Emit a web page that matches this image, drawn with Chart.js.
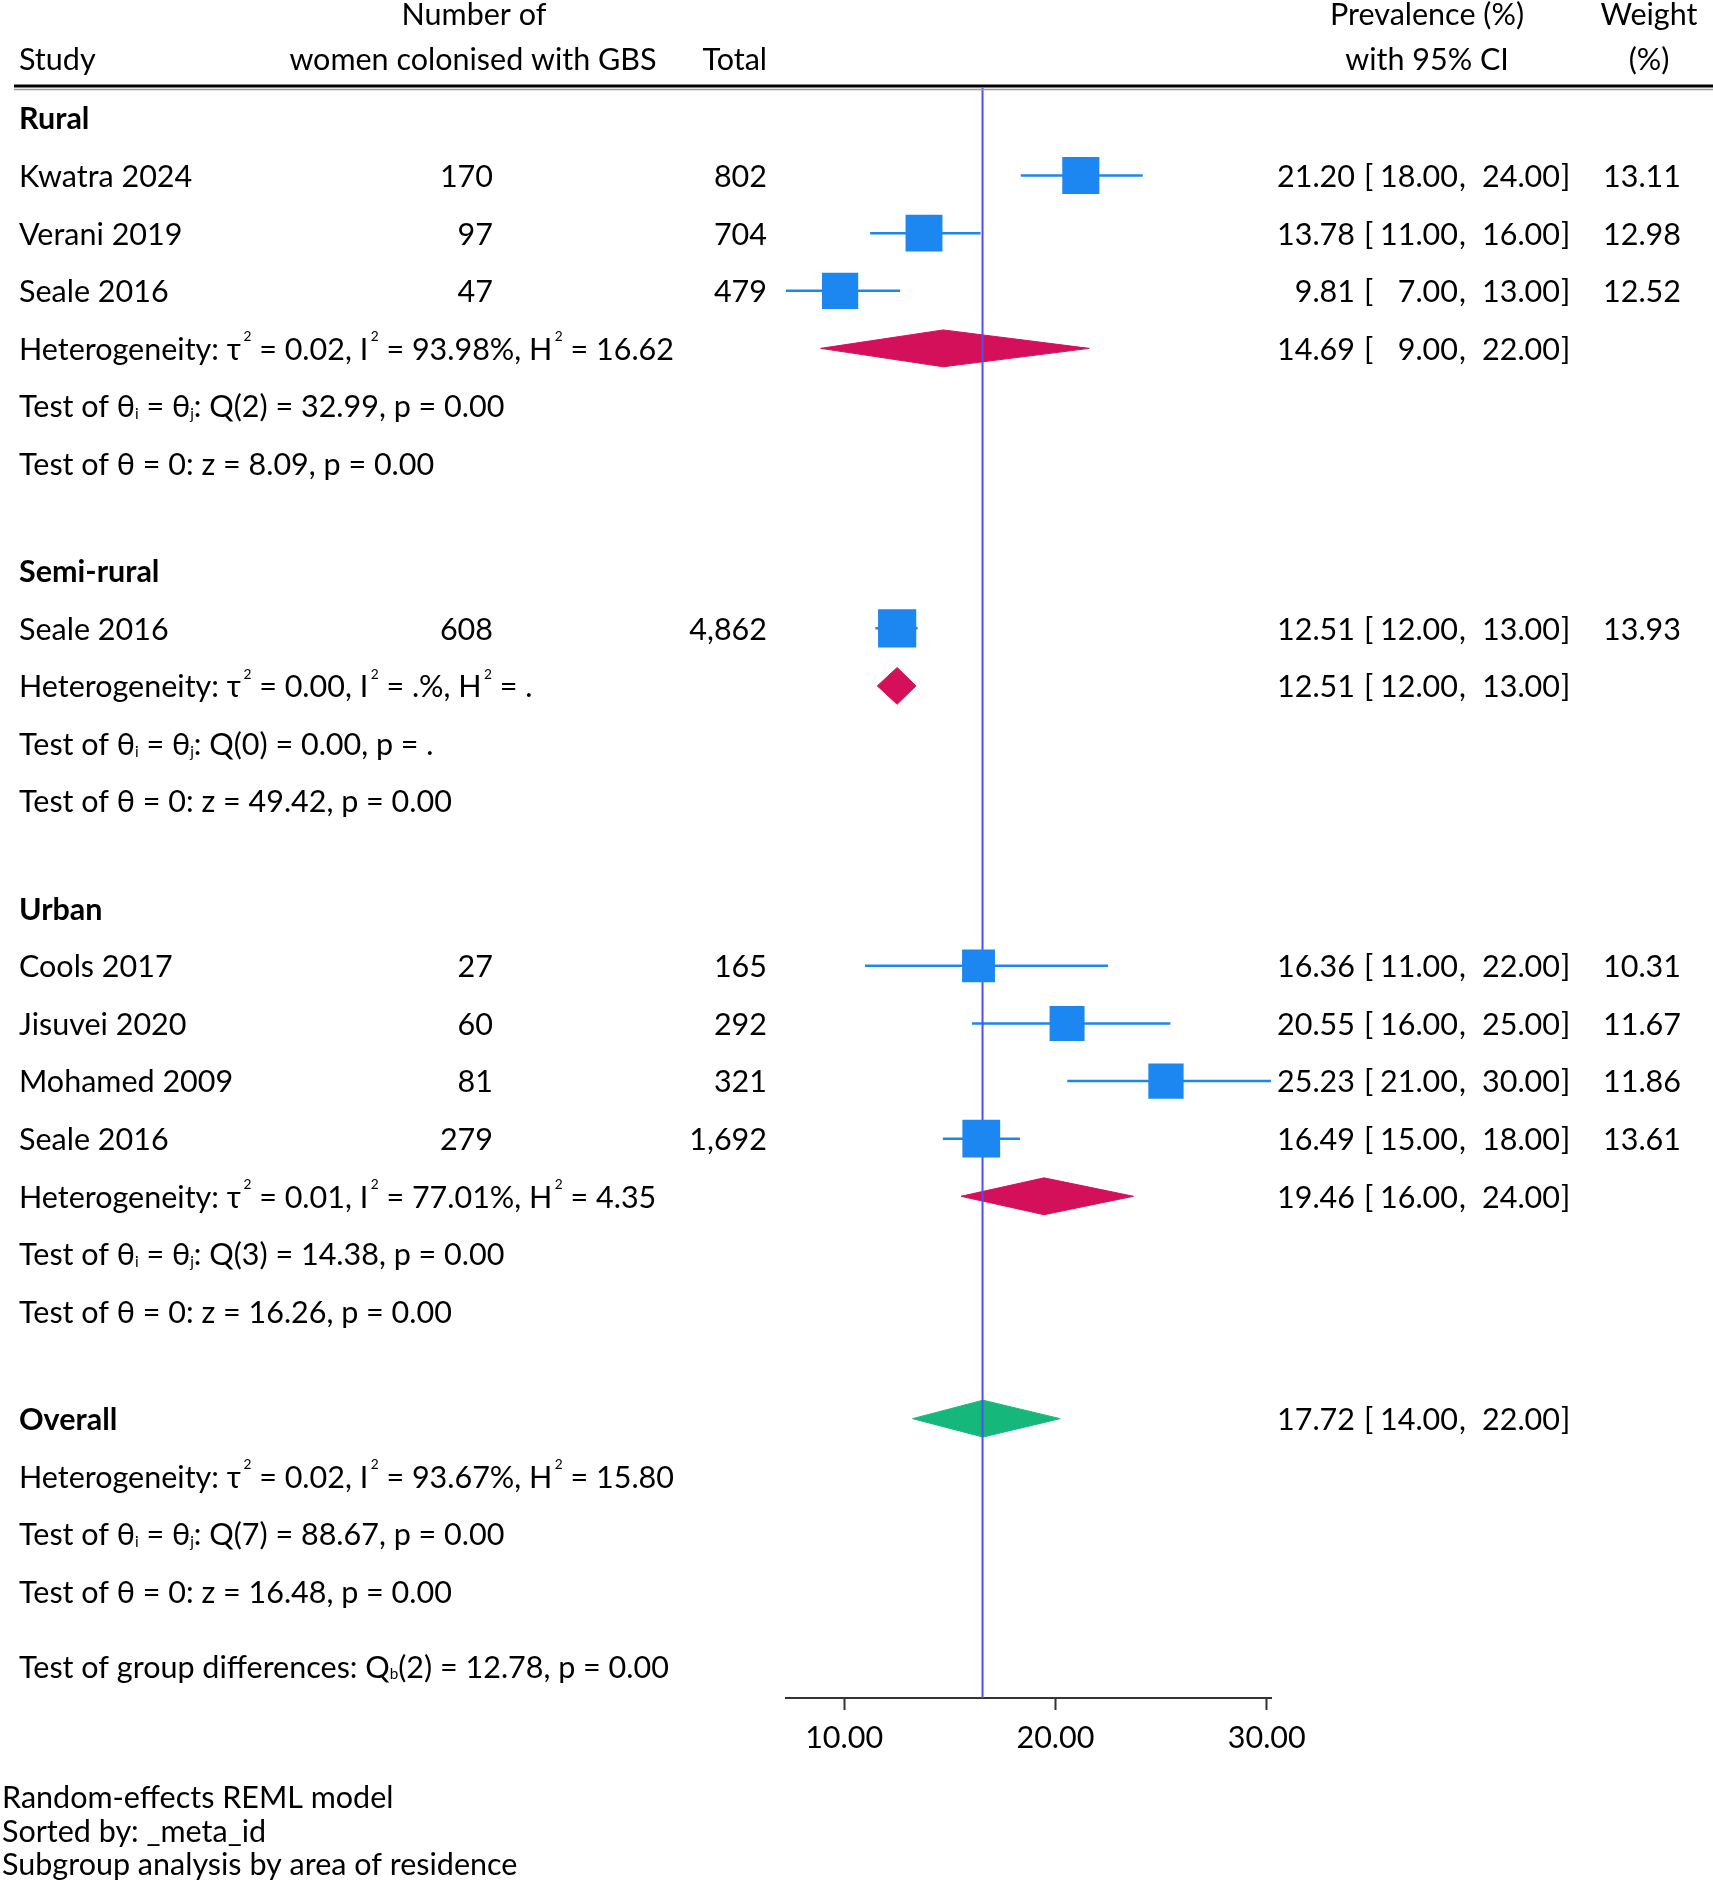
<!DOCTYPE html>
<html>
<head>
<meta charset="utf-8">
<script src="https://cdn.jsdelivr.net/npm/chart.js@4.4.1/dist/chart.umd.min.js"></script>
<style>
  body { margin: 0; background: #fff; }
  #wrap { width: 1713px; height: 1881px; }
</style>
</head>
<body>
<div id="wrap"><canvas id="forest" width="1713" height="1881"></canvas></div>
<script>
// ---- data ----
const groups = ["Rural", "Semi-rural", "Urban"];
const studies = ["Kwatra 2024", "Verani 2019", "Seale 2016", "Seale 2016", "Cools 2017", "Jisuvei 2020", "Mohamed 2009", "Seale 2016"];
const studyGroup = [0, 0, 0, 1, 2, 2, 2, 2];
const colonised = ["170", "97", "47", "608", "27", "60", "81", "279"];
const totals = ["802", "704", "479", "4,862", "165", "292", "321", "1,692"];

// marker positions on the axis
const estimate = [21.20, 13.78, 9.81, 12.51, 16.36, 20.55, 25.23, 16.49];
const ciLow = [18.36, 11.23, 7.25, 11.48, 10.99, 16.05, 20.56, 14.67];
const ciHigh = [24.13, 16.46, 12.65, 13.48, 22.49, 25.44, 30.20, 18.32];
const weights = [13.11, 12.98, 12.52, 13.93, 10.31, 11.67, 11.86, 13.61];

// printed labels
const estLabel = ["21.20", "13.78", "9.81", "12.51", "16.36", "20.55", "25.23", "16.49"];
const lowLabel = ["18.00", "11.00", "7.00", "12.00", "11.00", "16.00", "21.00", "15.00"];
const highLabel = ["24.00", "16.00", "13.00", "13.00", "22.00", "25.00", "30.00", "18.00"];
const weightLabel = ["13.11", "12.98", "12.52", "13.93", "10.31", "11.67", "11.86", "13.61"];

// subgroup pooled diamonds
const pooledEst = [14.69, 12.51, 19.46];
const pooledLow = [8.89, 11.57, 15.53];
const pooledHigh = [21.60, 13.40, 23.69];
const pooledEstLabel = ["14.69", "12.51", "19.46"];
const pooledLowLabel = ["9.00", "12.00", "16.00"];
const pooledHighLabel = ["22.00", "13.00", "24.00"];

// overall diamond
const overallEst = 16.57;
const overallLow = 13.24;
const overallHigh = 20.22;
const overallLabel = ["17.72", "14.00", "22.00"];
const refLine = 16.55;

const groupStats = [
  ["Heterogeneity: τ^{2} = 0.02, I^{2} = 93.98%, H^{2} = 16.62",
   "Test of θ_{i} = θ_{j}: Q(2) = 32.99, p = 0.00",
   "Test of θ = 0: z = 8.09, p = 0.00"],
  ["Heterogeneity: τ^{2} = 0.00, I^{2} = .%, H^{2} = .",
   "Test of θ_{i} = θ_{j}: Q(0) = 0.00, p = .",
   "Test of θ = 0: z = 49.42, p = 0.00"],
  ["Heterogeneity: τ^{2} = 0.01, I^{2} = 77.01%, H^{2} = 4.35",
   "Test of θ_{i} = θ_{j}: Q(3) = 14.38, p = 0.00",
   "Test of θ = 0: z = 16.26, p = 0.00"]
];
const overallStats = [
  "Heterogeneity: τ^{2} = 0.02, I^{2} = 93.67%, H^{2} = 15.80",
  "Test of θ_{i} = θ_{j}: Q(7) = 88.67, p = 0.00",
  "Test of θ = 0: z = 16.48, p = 0.00"
];
const groupDiff = "Test of group differences: Q_{b}(2) = 12.78, p = 0.00";
const xTicks = [10, 20, 30];
const footnotes = ["Random-effects REML model", "Sorted by: _meta_id", "Subgroup analysis by area of residence"];

// ---- layout ----
const FONT = "Lato";
const FS = 30.5;
const TEXT_DY = 1.5;
const BLUE = "#1c87f0";
const RED = "#d5105a";
const GREEN = "#15b87a";
const GAP = 1.86;
const Y_MIN = -0.52, Y_MAX = 27.43;
const AXIS_H = 80;
const DIAMOND_H = 0.32;

// row positions
const groupRow = [], studyRow = [], pooledRow = [];
let r = 0;
groups.forEach((g, gi) => {
  groupRow[gi] = r; r += 1;
  studies.forEach((s, i) => { if (studyGroup[i] === gi) { studyRow[i] = r; r += 1; } });
  pooledRow[gi] = r;
  r += 2 + GAP;
});
const overallRow = r;
const groupDiffRow = overallRow + 3 + 1.3;

function diamond(lo, est, hi, y) {
  return [{x: lo, y: y}, {x: est, y: y - DIAMOND_H}, {x: hi, y: y}, {x: est, y: y + DIAMOND_H}, {x: lo, y: y}];
}

const datasets = [];
datasets.push({
  label: "studies",
  data: studies.map((s, i) => ({x: estimate[i], y: studyRow[i]})),
  pointStyle: "rect",
  pointRadius: c => 7.24 * Math.sqrt(weights[c.dataIndex]),
  backgroundColor: BLUE,
  borderWidth: 0,
  showLine: false,
  order: 0
});
datasets.push({
  label: "ref",
  data: [{x: refLine, y: Y_MIN}, {x: refLine, y: Y_MAX}],
  borderColor: "#5050f0",
  borderWidth: 2,
  pointRadius: 0,
  showLine: true,
  order: 1
});
studies.forEach((s, i) => {
  datasets.push({
    label: "ci" + i,
    data: [{x: ciLow[i], y: studyRow[i]}, {x: ciHigh[i], y: studyRow[i]}],
    borderColor: BLUE,
    borderWidth: 2.5,
    pointRadius: 0,
    showLine: true,
    order: 2
  });
});
groups.forEach((g, gi) => {
  datasets.push({
    label: "pooled" + gi,
    data: diamond(pooledLow[gi], pooledEst[gi], pooledHigh[gi], pooledRow[gi]),
    borderColor: RED,
    backgroundColor: RED,
    borderWidth: 1,
    pointRadius: 0,
    showLine: true,
    fill: "shape",
    order: 3
  });
});
datasets.push({
  label: "overall",
  data: diamond(overallLow, overallEst, overallHigh, overallRow),
  borderColor: GREEN,
  backgroundColor: GREEN,
  borderWidth: 1,
  pointRadius: 0,
  showLine: true,
  fill: "shape",
  order: 3
});

function drawRich(ctx, str, x, y, align, bold) {
  const parts = str.split(/(\^\{[^}]*\}|_\{[^}]*\})/).filter(p => p);
  const pieces = parts.map(p => {
    if (p.startsWith("^{")) return {t: p.slice(2, -1), size: FS * 0.45, dy: -FS * 0.42, pre: FS * 0.08};
    if (p.startsWith("_{")) return {t: p.slice(2, -1), size: FS * 0.5, dy: FS * 0.22, pre: 0};
    return {t: p, size: FS, dy: 0, pre: 0};
  });
  let total = 0;
  pieces.forEach(pc => {
    ctx.font = (bold ? "bold " : "") + pc.size + "px " + FONT;
    pc.w = ctx.measureText(pc.t).width;
    total += pc.pre + pc.w;
  });
  let cx = align === "right" ? x - total : align === "center" ? x - total / 2 : x;
  ctx.textAlign = "left";
  ctx.textBaseline = "middle";
  pieces.forEach(pc => {
    ctx.font = (bold ? "bold " : "") + pc.size + "px " + FONT;
    cx += pc.pre;
    ctx.fillText(pc.t, cx, y + TEXT_DY + pc.dy);
    cx += pc.w;
  });
}

function drawCI(ctx, y, est, lo, hi) {
  y += TEXT_DY;
  ctx.font = FS + "px " + FONT;
  ctx.textBaseline = "middle";
  ctx.textAlign = "right";
  ctx.fillText(est, 1355, y);
  ctx.fillText(lo, 1458, y);
  ctx.fillText(hi, 1560, y);
  ctx.textAlign = "left";
  ctx.fillText("[", 1364, y);
  ctx.fillText(",", 1459, y);
  ctx.fillText("]", 1561, y);
}

const forestText = {
  id: "forestText",
  afterDraw(chart) {
    const ctx = chart.ctx;
    const py = v => chart.scales.y.getPixelForValue(v);
    ctx.save();
    ctx.fillStyle = "#000";

    // header
    drawRich(ctx, "Number of", 474, 14, "center");
    drawRich(ctx, "Study", 19, 59, "left");
    drawRich(ctx, "women colonised with GBS", 473, 59, "center");
    drawRich(ctx, "Total", 767, 59, "right");
    drawRich(ctx, "Prevalence (%)", 1427, 14, "center");
    drawRich(ctx, "with 95% CI", 1427, 59, "center");
    drawRich(ctx, "Weight", 1649, 14, "center");
    drawRich(ctx, "(%)", 1649, 59, "center");

    ctx.strokeStyle = "#000";
    ctx.lineWidth = 3;
    ctx.beginPath(); ctx.moveTo(14, 86); ctx.lineTo(1713, 86); ctx.stroke();
    ctx.strokeStyle = "#999";
    ctx.lineWidth = 1.5;
    ctx.beginPath(); ctx.moveTo(14, 89.5); ctx.lineTo(1713, 89.5); ctx.stroke();

    groups.forEach((g, gi) => {
      drawRich(ctx, g, 19, py(groupRow[gi]), "left", true);
      groupStats[gi].forEach((s, k) => drawRich(ctx, s, 19, py(pooledRow[gi] + k), "left"));
      drawCI(ctx, py(pooledRow[gi]), pooledEstLabel[gi], pooledLowLabel[gi], pooledHighLabel[gi]);
    });
    studies.forEach((s, i) => {
      const y = py(studyRow[i]);
      drawRich(ctx, s, 19, y, "left");
      drawRich(ctx, colonised[i], 493, y, "right");
      drawRich(ctx, totals[i], 767, y, "right");
      drawCI(ctx, y, estLabel[i], lowLabel[i], highLabel[i]);
      drawRich(ctx, weightLabel[i], 1681, y, "right");
    });

    drawRich(ctx, "Overall", 19, py(overallRow), "left", true);
    drawCI(ctx, py(overallRow), overallLabel[0], overallLabel[1], overallLabel[2]);
    overallStats.forEach((s, k) => drawRich(ctx, s, 19, py(overallRow + 1 + k), "left"));
    drawRich(ctx, groupDiff, 19, py(groupDiffRow), "left");

    footnotes.forEach((f, k) => drawRich(ctx, f, 2, 1797 + k * 33.5, "left"));
    ctx.restore();
  }
};

const allLow = Math.min(...ciLow, ...pooledLow, overallLow);
const allHigh = Math.max(...ciHigh, ...pooledHigh, overallHigh);

new Chart(document.getElementById("forest"), {
  type: "scatter",
  data: { datasets: datasets },
  options: {
    responsive: false,
    animation: false,
    devicePixelRatio: 1,
    layout: { padding: { left: 786, right: 1713 - 1271, top: 88, bottom: 1881 - 1698 - AXIS_H } },
    plugins: { legend: { display: false }, tooltip: { enabled: false } },
    elements: { line: { tension: 0 } },
    scales: {
      x: {
        type: "linear",
        min: allLow,
        max: allHigh,
        afterBuildTicks: s => { s.ticks = xTicks.map(v => ({value: v})); },
        afterFit: s => { s.height = AXIS_H; },
        grid: { drawOnChartArea: false, drawTicks: true, tickLength: 12, tickWidth: 2, tickColor: "#333" },
        border: { display: true, color: "#333", width: 2 },
        ticks: {
          callback: v => Number(v).toFixed(2),
          font: { family: FONT, size: FS },
          color: "#000",
          padding: 10,
          maxRotation: 0,
          autoSkip: false
        }
      },
      y: { type: "linear", reverse: true, min: Y_MIN, max: Y_MAX, display: false }
    }
  },
  plugins: [forestText]
});
</script>
</body>
</html>
